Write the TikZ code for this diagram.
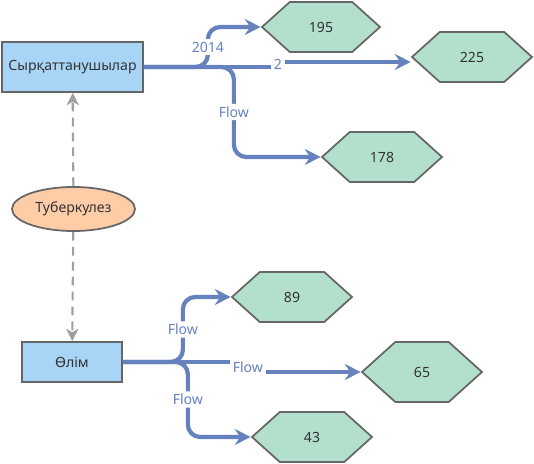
\documentclass[tikz,border=0pt]{standalone}
\usepackage{fontspec}
\setmainfont{Noto Sans}
\usepackage{tikz}
\usetikzlibrary{positioning}
\usetikzlibrary{arrows.meta}
\usetikzlibrary{shapes.geometric}
\usetikzlibrary{shapes.symbols}
\definecolor{flowblue}{RGB}{101,130,190}
\definecolor{boxblue}{RGB}{168,212,246}
\definecolor{peach}{RGB}{255,204,168}
\definecolor{mint}{RGB}{178,224,204}
\definecolor{edgegray}{RGB}{102,102,102}
\definecolor{dashgray}{RGB}{160,160,160}
\tikzset {
  font=\fontsize{8}{10}\selectfont,
  % rectangles for the groups
  group/.style = {draw=edgegray, fill=boxblue, line width=1pt, minimum height=0.8cm, text=black!80},
  % the disease in the middle
  cause/.style = {draw=edgegray, fill=peach, ellipse, line width=1pt, minimum width=2.46cm, minimum height=0.88cm, inner sep=0pt, text=black!80},
  % hexagons holding the numbers
  count/.style = {draw=edgegray, fill=mint, line width=1pt, signal, signal to=west and east, signal pointer angle=84, minimum width=2.4cm, minimum height=1cm, inner sep=0pt, text=black!80},
  % thick blue flows
  flow/.style = {flowblue, line width=2.4pt, -{Stealth[length=9pt, width=9pt, inset=3pt]}},
  elbow/.style = {rounded corners=7pt},
  lbl/.style = {fill=white, text=flowblue, inner sep=1.5pt},
  % dashed grey links
  link/.style = {dashgray, line width=1.2pt, dash pattern=on 5pt off 3.5pt, -{Stealth[length=7pt, width=7pt, inset=2pt]}},
}

\begin{document}
\begin{tikzpicture}
      \useasboundingbox (0, 0) rectangle (10.68, -9.28);

      \node[group, minimum width=2.82cm, minimum height=1cm] (sick) at (1.45, -1.34) {Сырқаттанушылар};
      \node[cause] (tb) at (1.47, -4.18) {Туберкулез};
      \node[group, minimum width=2cm] (death) at (1.44, -7.24) {Өлім};

      \node[count, minimum width=2.36cm] (n195) at (6.42, -0.54) {195};
      \node[count] (n225) at (9.44, -1.14) {225};
      \node[count] (n178) at (7.64, -3.14) {178};

      \node[count] (n89) at (5.84, -5.94) {89};
      \node[count, minimum height=1.2cm] (n65) at (8.44, -7.44) {65};
      \node[count] (n43) at (6.24, -8.74) {43};

      \draw [link] (tb) -- (sick);
      \draw [link] (tb) -- (death);

      \draw [flow, elbow] (sick.east) -- ++(1.28, 0) |- node[lbl, pos=0.25] {2014} (n195.west);
      \draw [flow] (sick.east) -- ++(2.68, 0) |- node[lbl, pos=0.25] {2} ([yshift=-0.1cm]n225.west);
      \draw [flow, elbow] (sick.east) -- ++(1.8, 0) |- node[lbl, pos=0.25] {Flow} (n178.west);

      \draw [flow, elbow] (death.east) -- ++(1.2, 0) |- node[lbl, pos=0.25] {Flow} (n89.west);
      \draw [flow] (death.east) -- ++(2.5, 0) |- node[lbl, pos=0.25] {Flow} (n65.west);
      \draw [flow, elbow] (death.east) -- ++(1.3, 0) |- node[lbl, pos=0.25] {Flow} (n43.west);
    \end{tikzpicture}
\end{document}
